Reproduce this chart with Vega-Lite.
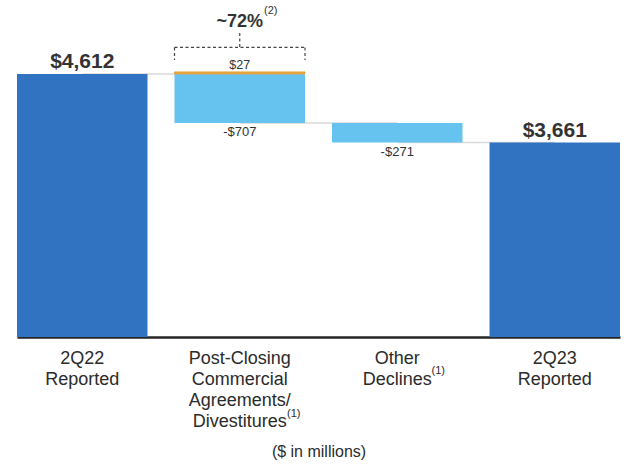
{
  "$schema": "https://vega.github.io/schema/vega-lite/v6.json",
  "autosize": "none",
  "width": 603,
  "height": 337,
  "padding": {"left": 17, "top": 0, "right": 20, "bottom": 132},
  "background": "#ffffff",
  "config": {"view": {"stroke": null}, "font": "Liberation Sans"},

  "data": {"values": [
    {"step": "2Q22|Reported", "part": "total", "from": 0, "to": 4612, "amount": "$4,612", "next": "Post-Closing|Commercial|Agreements/|Divestitures"},
    {"step": "Post-Closing|Commercial|Agreements/|Divestitures", "part": "increase", "from": 4612, "to": 4639, "amount": "$27", "share": "~72%", "shareRef": "(2)"},
    {"step": "Post-Closing|Commercial|Agreements/|Divestitures", "part": "decrease", "from": 4639, "to": 3932, "amount": "-$707", "next": "Other|Declines", "footnote": "(1)"},
    {"step": "Other|Declines", "part": "decrease", "from": 3932, "to": 3661, "amount": "-$271", "next": "2Q23|Reported", "footnote": "(1)"},
    {"step": "2Q23|Reported", "part": "total", "from": 0, "to": 3661, "amount": "$3,661"}
  ]},

  "encoding": {
    "x": {
      "field": "step",
      "type": "nominal",
      "scale": {
        "domain": ["2Q22|Reported", "Post-Closing|Commercial|Agreements/|Divestitures", "Other|Declines", "2Q23|Reported"],
        "paddingInner": 0.1714,
        "paddingOuter": 0
      },
      "axis": {
        "labelExpr": "split(datum.label, '|')",
        "labelAngle": 0,
        "labelFontSize": 18,
        "labelLineHeight": 21,
        "labelColor": "#2b2b2b",
        "labelPadding": 12,
        "ticks": false,
        "tickSize": 0,
        "domainColor": "#262626",
        "domainWidth": 2.5,
        "title": "($ in millions)",
        "titleFontSize": 16,
        "titleFontWeight": "normal",
        "titleColor": "#2b2b2b",
        "titlePadding": 13
      }
    },
    "y": {
      "field": "to",
      "type": "quantitative",
      "scale": {"domain": [970, 5635], "nice": false, "zero": false},
      "axis": null
    },
    "color": {
      "field": "part",
      "type": "nominal",
      "scale": {"domain": ["total", "increase", "decrease"], "range": ["#3172c1", "#e9a43e", "#66c2ee"]},
      "legend": null
    }
  },

  "layer": [
    {
      "transform": [{"filter": "datum.next != null"}],
      "mark": {"type": "rule", "color": "#d9d9d9", "strokeWidth": 1.5},
      "encoding": {"x2": {"field": "next"}, "color": {"value": "#d9d9d9"}}
    },
    {
      "transform": [{"filter": "datum.part != 'increase'"}],
      "mark": {"type": "bar", "clip": true},
      "encoding": {"y2": {"field": "from"}}
    },
    {
      "transform": [{"filter": "datum.part == 'increase'"}],
      "mark": {"type": "bar", "strokeWidth": 1},
      "encoding": {
        "y2": {"field": "from"},
        "stroke": {"value": "#e9a43e"}
      }
    },
    {
      "transform": [{"filter": "datum.part == 'total'"}],
      "mark": {"type": "text", "fontSize": 21, "fontWeight": "bold", "baseline": "alphabetic", "dy": -6},
      "encoding": {"text": {"field": "amount"}, "color": {"value": "#333333"}}
    },
    {
      "transform": [{"filter": "datum.part == 'increase'"}],
      "mark": {"type": "text", "fontSize": 12.5, "baseline": "alphabetic", "dy": -3},
      "encoding": {"text": {"field": "amount"}, "color": {"value": "#333333"}}
    },
    {
      "transform": [{"filter": "datum.part == 'decrease'"}],
      "mark": {"type": "text", "fontSize": 13, "baseline": "top", "dy": 3},
      "encoding": {"text": {"field": "amount"}, "color": {"value": "#333333"}}
    },
    {
      "transform": [{"filter": "datum.part == 'increase'"}],
      "mark": {"type": "rule", "strokeWidth": 1.2, "strokeDash": [3, 2.5], "yOffset": -24.5},
      "encoding": {
        "x": {"field": "step", "type": "nominal", "bandPosition": 0},
        "x2": {"field": "step", "bandPosition": 1},
        "color": {"value": "#444444"}
      }
    },
    {
      "transform": [{"filter": "datum.part == 'increase'"}],
      "mark": {"type": "rule", "strokeWidth": 1.2, "strokeDash": [3, 2.5], "yOffset": -24.5, "y2Offset": -12},
      "encoding": {
        "x": {"field": "step", "type": "nominal", "bandPosition": 0},
        "y2": {"field": "to"},
        "color": {"value": "#444444"}
      }
    },
    {
      "transform": [{"filter": "datum.part == 'increase'"}],
      "mark": {"type": "rule", "strokeWidth": 1.2, "strokeDash": [3, 2.5], "yOffset": -24.5, "y2Offset": -12},
      "encoding": {
        "x": {"field": "step", "type": "nominal", "bandPosition": 1},
        "y2": {"field": "to"},
        "color": {"value": "#444444"}
      }
    },
    {
      "transform": [{"filter": "datum.part == 'increase'"}],
      "mark": {"type": "rule", "strokeWidth": 1.2, "strokeDash": [3, 2.5], "yOffset": -39, "y2Offset": -24.5},
      "encoding": {"y2": {"field": "to"}, "color": {"value": "#444444"}}
    },
    {
      "transform": [{"filter": "datum.part == 'increase'"}],
      "mark": {"type": "text", "fontSize": 18, "fontWeight": "bold", "baseline": "alphabetic", "dy": -45},
      "encoding": {"text": {"field": "share"}, "color": {"value": "#333333"}}
    },
    {
      "transform": [{"filter": "datum.part == 'increase'"}],
      "mark": {"type": "text", "fontSize": 11, "baseline": "middle", "dx": 31, "dy": -61},
      "encoding": {"text": {"field": "shareRef"}, "color": {"value": "#333333"}}
    },
    {
      "transform": [{"filter": "datum.footnote != null && datum.step != 'Other|Declines'"}],
      "mark": {"type": "text", "fontSize": 11, "baseline": "middle", "dx": 54, "dy": 77},
      "encoding": {"text": {"field": "footnote"}, "y": {"value": "height"}, "color": {"value": "#2b2b2b"}}
    },
    {
      "transform": [{"filter": "datum.step == 'Other|Declines'"}],
      "mark": {"type": "text", "fontSize": 11, "baseline": "middle", "dx": 41, "dy": 34},
      "encoding": {"text": {"field": "footnote"}, "y": {"value": "height"}, "color": {"value": "#2b2b2b"}}
    }
  ]
}
